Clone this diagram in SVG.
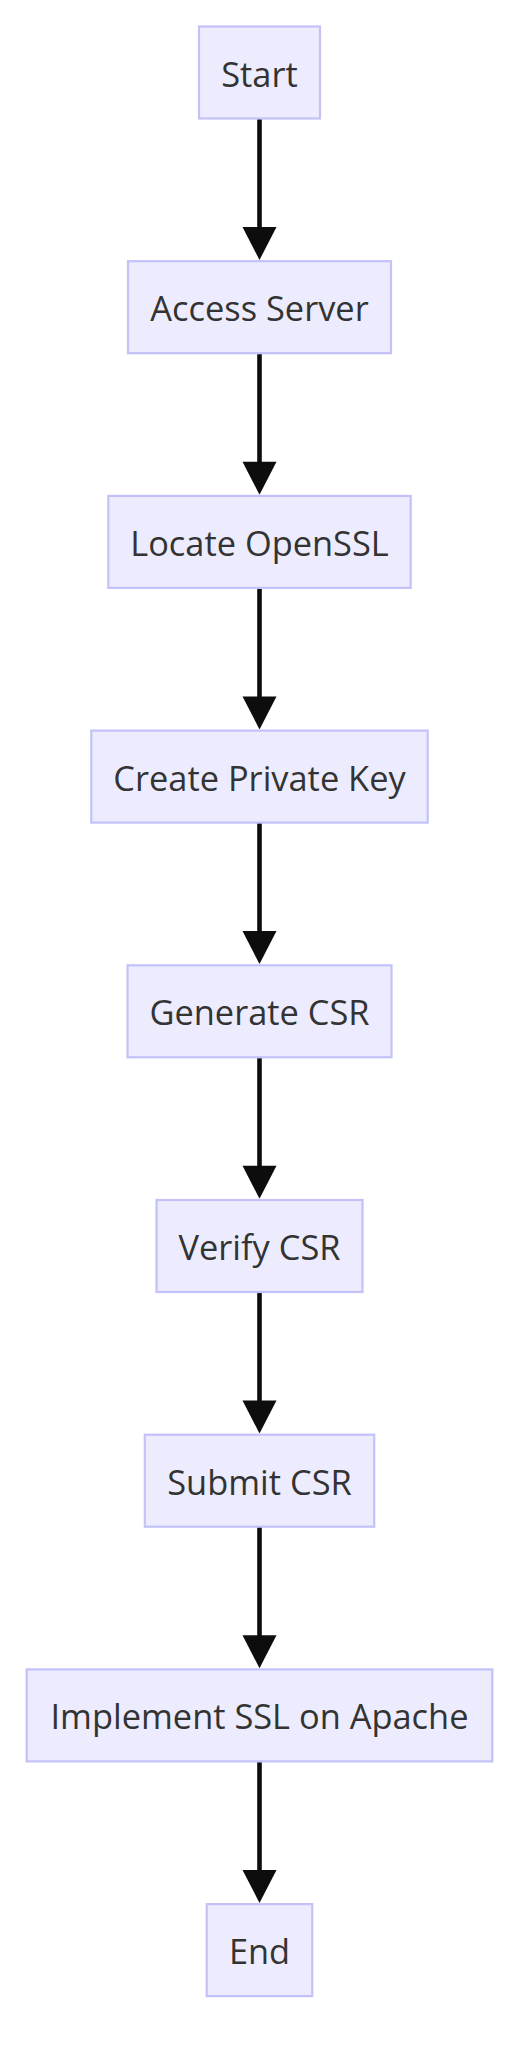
<svg xmlns="http://www.w3.org/2000/svg" width="519" height="2048" viewBox="0 0 519 2048">
<style>
.node rect{fill:#ececfe;stroke:#c2c2f9;stroke-width:2.2}
.node text{font-family:"Open Sans","Noto Sans","DejaVu Sans",sans-serif;font-size:34.4px;fill:#333333;text-anchor:middle}
.edge{stroke:#0d0d0d;stroke-width:4.6;fill:none}
</style>
<defs>
<marker id="arrow" markerUnits="userSpaceOnUse" markerWidth="36" markerHeight="36" refX="17" refY="33" orient="0" viewBox="0 0 34 34">
<path d="M0,0 L34,0 L17,33 Z" fill="#0d0d0d"/>
</marker>
</defs>
<rect width="519" height="2048" fill="#ffffff"/>
<g id="connectors">
<path class="edge" d="M259.5,118.5 V228"/>
<path d="M242.5,227 H276.5 L259.5,260 Z" fill="#0d0d0d"/>
<path class="edge" d="M259.5,353.2 V462.7"/>
<path d="M242.5,461.7 H276.5 L259.5,494.7 Z" fill="#0d0d0d"/>
<path class="edge" d="M259.5,587.9 V697.4"/>
<path d="M242.5,696.4 H276.5 L259.5,729.4 Z" fill="#0d0d0d"/>
<path class="edge" d="M259.5,822.6 V932.1"/>
<path d="M242.5,931.1 H276.5 L259.5,964.1 Z" fill="#0d0d0d"/>
<path class="edge" d="M259.5,1057.3 V1166.8"/>
<path d="M242.5,1165.8 H276.5 L259.5,1198.8 Z" fill="#0d0d0d"/>
<path class="edge" d="M259.5,1292 V1401.5"/>
<path d="M242.5,1400.5 H276.5 L259.5,1433.5 Z" fill="#0d0d0d"/>
<path class="edge" d="M259.5,1526.7 V1636.2"/>
<path d="M242.5,1635.2 H276.5 L259.5,1668.2 Z" fill="#0d0d0d"/>
<path class="edge" d="M259.5,1761.4 V1870.9"/>
<path d="M242.5,1869.9 H276.5 L259.5,1902.9 Z" fill="#0d0d0d"/>
</g>
<g id="start" class="node"><rect x="199" y="26.5" width="121" height="92"/><text x="259.5" y="86.5">Start</text></g>
<g id="access-server" class="node"><rect x="128" y="261.2" width="263" height="92"/><text x="259.5" y="321.2">Access Server</text></g>
<g id="locate-openssl" class="node"><rect x="108.3" y="495.9" width="302.4" height="92"/><text x="259.5" y="555.9">Locate OpenSSL</text></g>
<g id="create-private-key" class="node"><rect x="91.3" y="730.6" width="336.4" height="92"/><text x="259.5" y="790.6">Create Private Key</text></g>
<g id="generate-csr" class="node"><rect x="127.5" y="965.3" width="264" height="92"/><text x="259.5" y="1025.3">Generate CSR</text></g>
<g id="verify-csr" class="node"><rect x="156.5" y="1200" width="206" height="92"/><text x="259.5" y="1260">Verify CSR</text></g>
<g id="submit-csr" class="node"><rect x="144.8" y="1434.7" width="229.4" height="92"/><text x="259.5" y="1494.7">Submit CSR</text></g>
<g id="implement-ssl" class="node"><rect x="26.7" y="1669.4" width="465.6" height="92"/><text x="259.5" y="1729.4">Implement SSL on Apache</text></g>
<g id="end" class="node"><rect x="206.7" y="1904.1" width="105.6" height="92"/><text x="259.5" y="1964.1">End</text></g>
</svg>
